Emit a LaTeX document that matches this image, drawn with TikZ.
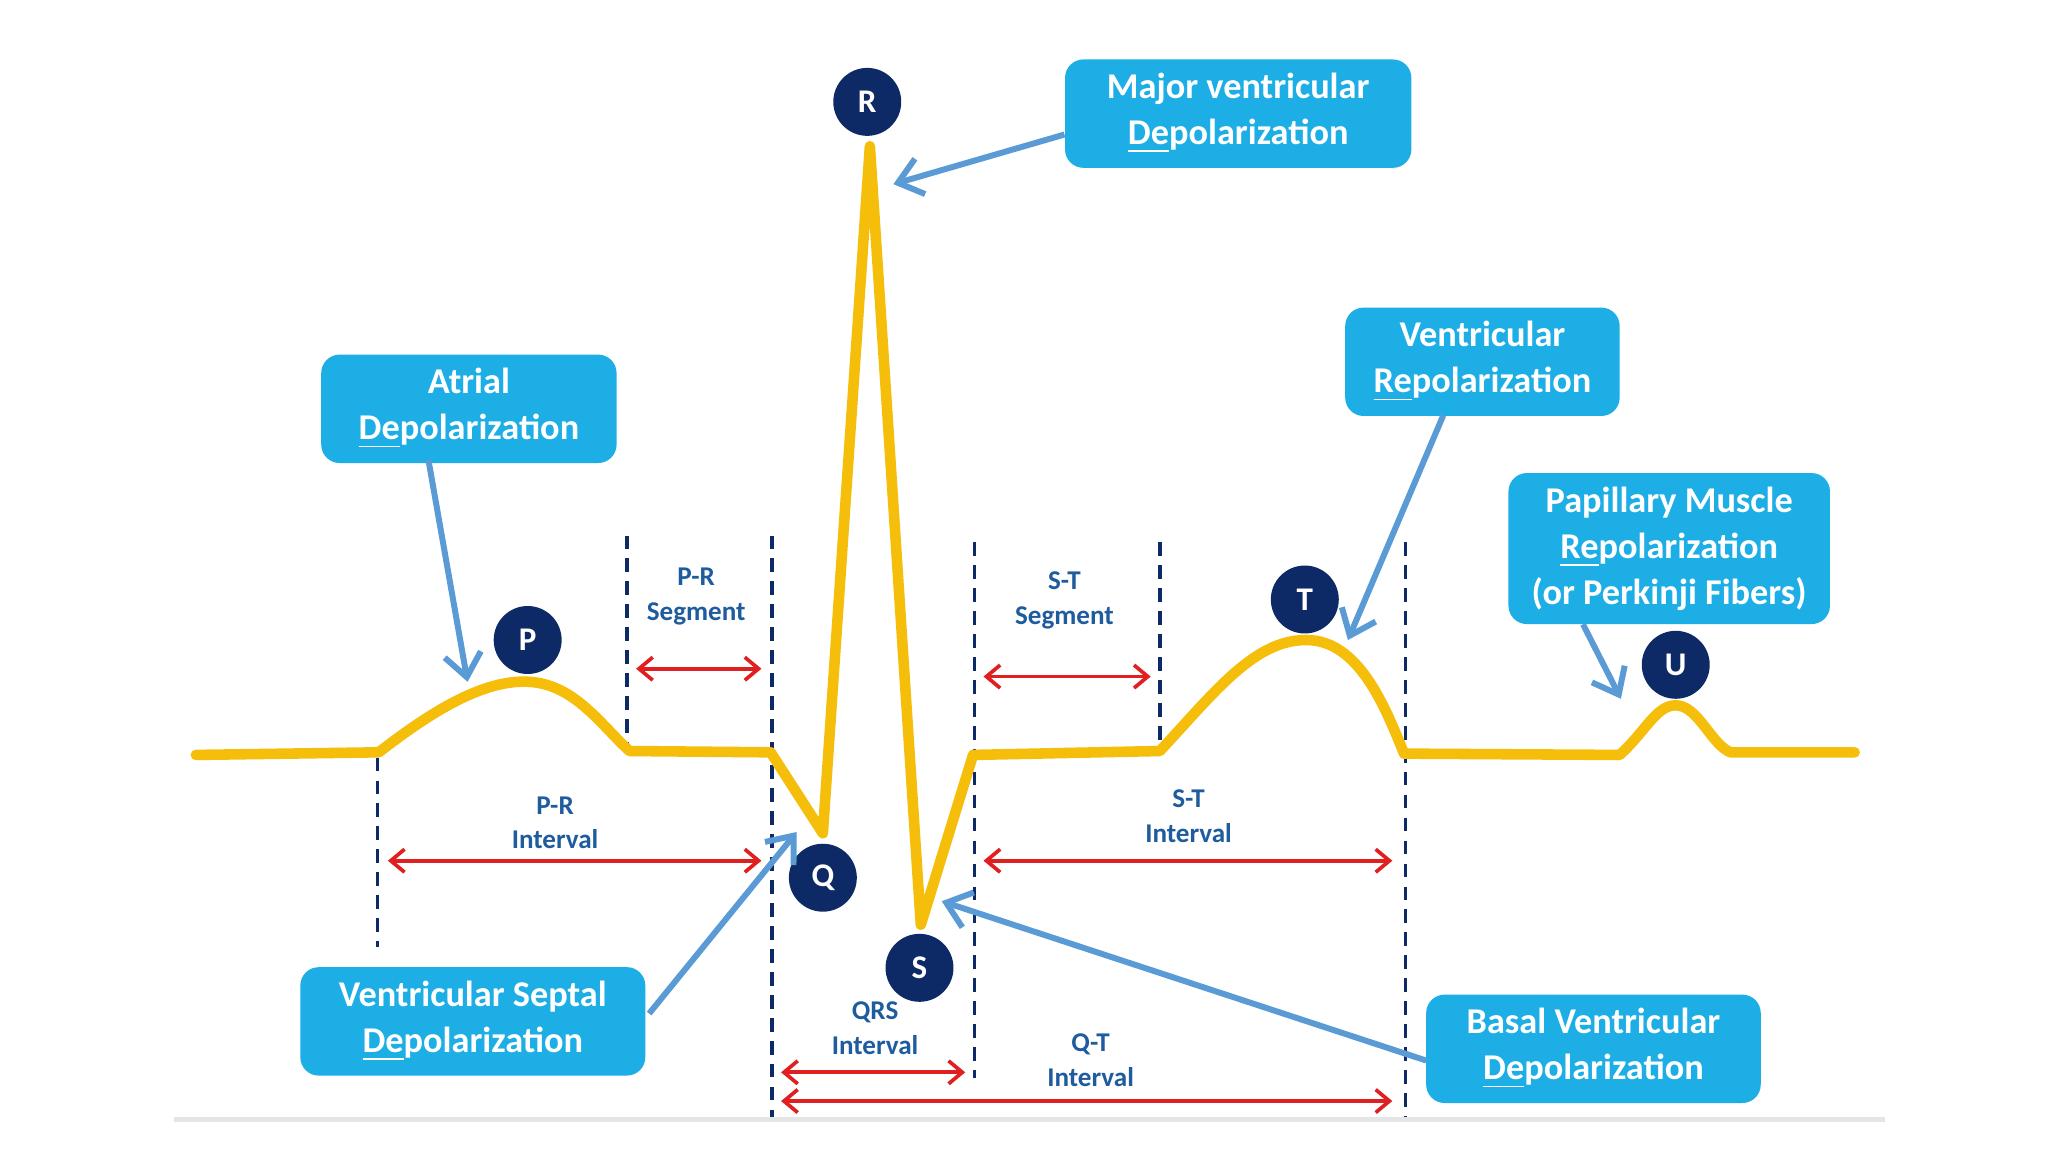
\documentclass[tikz,border=0pt]{standalone}
\usepackage{fontspec}
\setmainfont{Carlito}
\usetikzlibrary{arrows.meta}
\definecolor{wave}{HTML}{F5BE0B}
\definecolor{navy}{HTML}{0E2A66}
\definecolor{boxc}{HTML}{1DAEE6}
\definecolor{pointer}{HTML}{5B9BD5}
\definecolor{lbl}{HTML}{1F5C9E}
\definecolor{redc}{HTML}{E02020}
\tikzset{
  x=0.01cm,y=-0.01cm,
  infobox/.style={fill=boxc,rounded corners=4pt,text=white,font=\bfseries\fontsize{7.9}{10}\selectfont,align=center,minimum height=0.78cm,inner sep=3pt},
  peak/.style={circle,fill=navy,text=white,font=\bfseries\fontsize{7.2}{8}\selectfont,minimum size=0.52cm,inner sep=0pt},
  guide/.style={navy,dashed,line width=0.8pt,dash pattern=on 3pt off 2pt},
  span/.style={redc,line width=0.8pt,{Straight Barb[length=3pt,width=5pt]}-{Straight Barb[length=3pt,width=5pt]}},
  tag/.style={text=lbl,font=\bfseries\fontsize{5.9}{7.6}\selectfont,align=center},
  callout/.style={pointer,line width=1.3pt,-{Straight Barb[length=5pt,width=8pt]}},
}
\begin{document}
\begin{tikzpicture}
\useasboundingbox[fill=white] (0,0) rectangle (1568,882);
\draw[gray!20,line width=1pt] (133,857) -- (1443,857);
% guides
\draw[guide] (289,580) -- (289,725);
\draw[guide] (480,410) -- (480,575);
\draw[guide] (591,410) -- (591,855);
\draw[guide] (746,415) -- (746,825);
\draw[guide] (888,415) -- (888,572);
\draw[guide] (1076,415) -- (1076,855);
% waveform
\draw[wave,line width=2.3pt,line join=round,line cap=round]
  (150,578) -- (290,576) .. controls (330,545) and (370,520) .. (405,522)
  .. controls (440,524) and (460,555) .. (482,575) -- (590,576)
  -- (630,638) -- (666,112) -- (705,708) -- (745,578) -- (888,575)
  .. controls (930,530) and (960,490) .. (1000,490)
  .. controls (1040,490) and (1060,540) .. (1075,577) -- (1240,578)
  .. controls (1260,560) and (1268,540) .. (1283,540)
  .. controls (1300,540) and (1310,570) .. (1325,576) -- (1420,576);
% spans
\coordinate (a1) at (487,512); \coordinate (a2) at (583,512);
\coordinate (b1) at (297,659); \coordinate (b2) at (583,659);
\coordinate (c1) at (753,518); \coordinate (c2) at (881,518);
\coordinate (d1) at (753,659); \coordinate (d2) at (1066,659);
\coordinate (e1) at (598,821); \coordinate (e2) at (739,821);
\coordinate (f1) at (598,843); \coordinate (f2) at (1066,843);
\draw[span] (a1) -- (a2);
\draw[span] (b1) -- (b2);
\draw[span] (c1) -- (c2);
\draw[span] (d1) -- (d2);
\draw[span] (e1) -- (e2);
\draw[span] (f1) -- (f2);
\node[tag] (t1) at (533,457) {P-R\\Segment};
\node[tag] (t2) at (425,630) {P-R\\Interval};
\node[tag] (t3) at (815,460) {S-T\\Segment};
\node[tag] (t4) at (910,625) {S-T\\Interval};
\node[tag] (t5) at (670,787) {QRS\\Interval};
\node[tag] (t6) at (835,812) {Q-T\\Interval};
% peaks
\node[peak] (R) at (664,78) {R};
\node[peak] (P) at (404,490) {P};
\node[peak] (Q) at (630,672) {Q};
\node[peak] (S) at (704,741) {S};
\node[peak] (T) at (999,459) {T};
\node[peak] (U) at (1283,509) {U};
% boxes
\node[infobox,minimum width=2.65cm] (b1x) at (948,87) {Major ventricular\\\underline{De}polarization};
\node[infobox,minimum width=2.26cm] (b2x) at (359,313) {Atrial\\\underline{De}polarization};
\node[infobox,minimum width=2.10cm] (b3x) at (1135,277) {Ventricular\\\underline{Re}polarization};
\node[infobox,minimum width=2.46cm,minimum height=1.12cm] (b4x) at (1278,420) {Papillary Muscle\\\underline{Re}polarization\\(or Perkinji Fibers)};
\node[infobox,minimum width=2.64cm] (b5x) at (362,782) {Ventricular Septal\\\underline{De}polarization};
\node[infobox,minimum width=2.56cm] (b6x) at (1220,803) {Basal Ventricular\\\underline{De}polarization};
% callouts
\coordinate (p1) at (684,141);
\coordinate (p2) at (358,522);
\coordinate (p3) at (1032,490);
\coordinate (p4) at (1241,535);
\coordinate (p5) at (610,637);
\coordinate (p6) at (721,690);
\draw[callout] (815,103) -- (p1);
\draw[callout] (328,352) -- (p2);
\draw[callout] (1105,318) -- (p3);
\draw[callout] (1212,478) -- (p4);
\draw[callout] (497,776) -- (p5);
\draw[callout] (1092,812) -- (p6);
\end{tikzpicture}
\end{document}
